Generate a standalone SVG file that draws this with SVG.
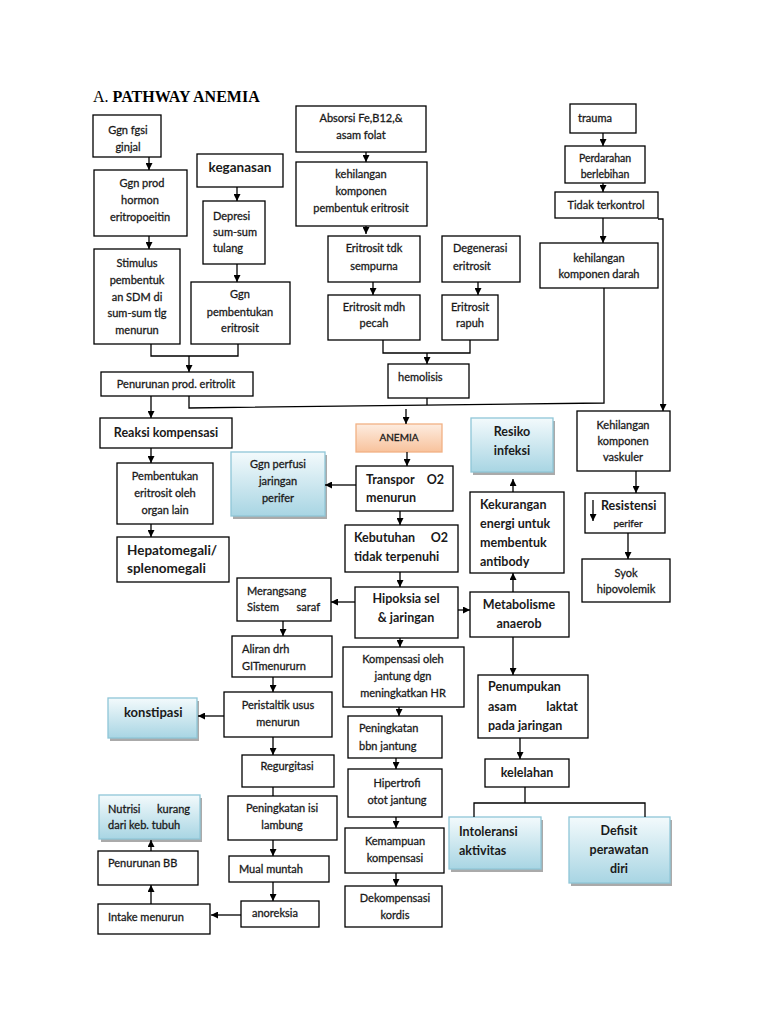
<svg xmlns="http://www.w3.org/2000/svg" width="768" height="1024" viewBox="0 0 768 1024">
<defs>
<marker id="ah" viewBox="0 0 10 10" refX="10" refY="5" markerWidth="7" markerHeight="7" markerUnits="userSpaceOnUse" orient="auto">
<path d="M0,0 L10,5 L0,10 z" fill="#000"/>
</marker>
<linearGradient id="gb" x1="0" y1="0" x2="0" y2="1">
<stop offset="0" stop-color="#f3fafc"/>
<stop offset="1" stop-color="#a8d5e3"/>
</linearGradient>
<linearGradient id="go" x1="0" y1="0" x2="0" y2="1">
<stop offset="0" stop-color="#fdece0"/>
<stop offset="1" stop-color="#f8c29c"/>
</linearGradient>
</defs>
<style>
rect.b{fill:#fff;stroke:#000;stroke-width:1.3}
rect.bl{fill:url(#gb);stroke:#8fc6d8;stroke-width:1.3}
rect.sh{fill:#aaa;stroke:none}
rect.or{fill:url(#go);stroke:#f2b184;stroke-width:1.3}
text{font-family:Lato,"Liberation Sans",sans-serif;font-size:11px;fill:#1a1a1a;stroke:#1a1a1a;stroke-width:0.3}
text.c{text-anchor:middle}
text.e{text-anchor:end}
text.bd{font-weight:bold;font-size:12.5px;stroke:none}
.cn line,.cn polyline,.cn path{stroke:#000;stroke-width:1.3;fill:none}
.ar{marker-end:url(#ah)}
</style>
<rect width="768" height="1024" fill="#fff"/>
<text x="93" y="102" style="font-family:'Liberation Serif',serif;font-size:16px;fill:#000;stroke:none">A. <tspan font-weight="bold">PATHWAY ANEMIA</tspan></text>

<g id="n-ginjal"><rect class="b" x="93" y="115" width="68" height="42"/><text class="c" x="128" y="134">Ggn fgsi</text><text class="c" x="128" y="151">ginjal</text></g>
<g id="n-keganasan"><rect class="b" x="197" y="154" width="86" height="33"/><text class="c bd" x="240" y="172" style="font-size:13.5px">keganasan</text></g>
<g id="n-hormon"><rect class="b" x="94" y="170" width="93" height="66"/><text class="c" x="142" y="187">Ggn prod</text><text class="c" x="140" y="204">hormon</text><text class="c" x="140" y="221">eritropoeitin</text></g>
<g id="n-depresi"><rect class="b" x="203" y="201" width="62" height="63"/><text x="213" y="220">Depresi</text><text x="213" y="236">sum-sum</text><text x="213" y="252">tulang</text></g>
<g id="n-stimulus"><rect class="b" x="94" y="249" width="86" height="95"/><text class="c" x="137" y="267">Stimulus</text><text class="c" x="137" y="284">pembentuk</text><text class="c" x="137" y="301">an SDM di</text><text class="c" x="137" y="317">sum-sum tlg</text><text class="c" x="137" y="334">menurun</text></g>
<g id="n-ggnpemb"><rect class="b" x="191" y="282" width="99" height="62"/><text class="c" x="240" y="298">Ggn</text><text class="c" x="240" y="316">pembentukan</text><text class="c" x="240" y="332">eritrosit</text></g>
<g id="n-absorsi"><rect class="b" x="296" y="106" width="130" height="46"/><text class="c" x="361" y="122">Absorsi Fe,B12,&amp;</text><text class="c" x="361" y="139">asam folat</text></g>
<g id="n-kehkomp"><rect class="b" x="296" y="162" width="131" height="64"/><text class="c" x="361" y="178">kehilangan</text><text class="c" x="361" y="195">komponen</text><text class="c" x="361" y="212">pembentuk eritrosit</text></g>
<g id="n-tdksempurna"><rect class="b" x="328" y="236" width="92" height="46"/><text class="c" x="374" y="252">Eritrosit tdk</text><text class="c" x="374" y="270">sempurna</text></g>
<g id="n-degenerasi"><rect class="b" x="442" y="236" width="78" height="46"/><text x="453" y="252">Degenerasi</text><text x="453" y="270">eritrosit</text></g>
<g id="n-mdhpecah"><rect class="b" x="328" y="295" width="92" height="45"/><text class="c" x="374" y="311">Eritrosit mdh</text><text class="c" x="374" y="327">pecah</text></g>
<g id="n-rapuh"><rect class="b" x="442" y="295" width="56" height="45"/><text class="c" x="470" y="311">Eritrosit</text><text class="c" x="470" y="327">rapuh</text></g>
<g id="n-trauma"><rect class="b" x="570" y="104" width="66" height="29"/><text x="578" y="122">trauma</text></g>
<g id="n-perdarahan"><rect class="b" x="565" y="146" width="80" height="37"/><text class="c" x="605" y="162" style="font-size:10.5px">Perdarahan</text><text class="c" x="605" y="178" style="font-size:10.5px">berlebihan</text></g>
<g id="n-tidakterkontrol"><rect class="b" x="555" y="192" width="103" height="26"/><text class="c" x="606" y="209">Tidak terkontrol</text></g>
<g id="n-kehdarah"><rect class="b" x="540" y="243" width="118" height="45"/><text class="c" x="599" y="262">kehilangan</text><text class="c" x="599" y="278">komponen darah</text></g>
<g id="n-penurunanprod"><rect class="b" x="101" y="372" width="152" height="24"/><text class="c" x="176" y="388">Penurunan prod. eritrolit</text></g>
<g id="n-hemolisis"><rect class="b" x="388" y="364" width="81" height="34"/><text x="398" y="381">hemolisis</text></g>
<g id="n-reaksi"><rect class="b" x="100" y="418" width="132" height="30"/><text class="c bd" x="166" y="437">Reaksi kompensasi</text></g>
<g id="n-pembentukan"><rect class="b" x="117" y="463" width="96" height="61"/><text class="c" x="165" y="480">Pembentukan</text><text class="c" x="165" y="497">eritrosit oleh</text><text class="c" x="165" y="514">organ lain</text></g>
<g id="n-hepato"><rect class="b" x="117" y="537" width="112" height="45"/><text class="bd" x="127" y="555" style="font-size:13.5px">Hepatomegali/</text><text class="bd" x="127" y="573" style="font-size:13.5px">splenomegali</text></g>
<g id="n-ggnperfusi"><rect class="sh" x="233" y="455" width="94" height="64"/><rect class="bl" x="231" y="452" width="94" height="64"/><text class="c" x="278" y="468">Ggn perfusi</text><text class="c" x="278" y="485">jaringan</text><text class="c" x="278" y="502">perifer</text></g>
<g id="n-anemia"><rect class="or" x="356" y="424" width="86" height="28"/><text class="c" x="399" y="441" style="font-size:10px">ANEMIA</text></g>
<g id="n-resiko"><rect class="sh" x="473" y="421" width="82" height="54"/><rect class="bl" x="471" y="418" width="82" height="54"/><text class="c bd" x="512" y="436">Resiko</text><text class="c bd" x="512" y="455">infeksi</text></g>
<g id="n-transpor"><rect class="b" x="356" y="466" width="97" height="45"/><text class="bd" x="366" y="484">Transpor</text><text class="bd e" x="444" y="484">O2</text><text class="bd" x="366" y="502">menurun</text></g>
<g id="n-kebutuhan"><rect class="b" x="345" y="525" width="113" height="47"/><text class="bd" x="354" y="542">Kebutuhan</text><text class="bd e" x="448" y="542">O2</text><text class="bd" x="354" y="561">tidak terpenuhi</text></g>
<g id="n-hipoksia"><rect class="b" x="355" y="587" width="103" height="51"/><text class="c bd" x="406" y="603">Hipoksia sel</text><text class="c bd" x="406" y="622">&amp; jaringan</text></g>
<g id="n-kekurangan"><rect class="b" x="470" y="492" width="94" height="81"/><text class="bd" x="480" y="509">Kekurangan</text><text class="bd" x="480" y="528">energi untuk</text><text class="bd" x="480" y="547">membentuk</text><text class="bd" x="480" y="566">antibody</text></g>
<g id="n-metabolisme"><rect class="b" x="470" y="592" width="99" height="45"/><text class="c bd" x="519" y="609">Metabolisme</text><text class="c bd" x="519" y="628">anaerob</text></g>
<g id="n-vaskuler"><rect class="b" x="577" y="411" width="93" height="60"/><text class="c" x="623" y="429">Kehilangan</text><text class="c" x="623" y="445">komponen</text><text class="c" x="623" y="461">vaskuler</text></g>
<g id="n-resistensi"><rect class="b" x="585" y="493" width="80" height="40"/><line x1="593" y1="500" x2="593" y2="521" stroke="#000" stroke-width="1.3" marker-end="url(#ah)"/><text class="bd" x="601" y="510">Resistensi</text><text class="c" x="628" y="527" style="font-size:10px">perifer</text></g>
<g id="n-syok"><rect class="b" x="582" y="559" width="88" height="43"/><text class="c" x="626" y="577">Syok</text><text class="c" x="626" y="593">hipovolemik</text></g>
<g id="n-merangsang"><rect class="b" x="237" y="578" width="94" height="43"/><text x="247" y="595">Merangsang</text><text x="247" y="611">Sistem</text><text class="e" x="320" y="611">saraf</text></g>
<g id="n-aliran"><rect class="b" x="232" y="636" width="100" height="41"/><text x="242" y="653">Aliran drh</text><text x="242" y="670">GITmenururn</text></g>
<g id="n-peristaltik"><rect class="b" x="224" y="692" width="108" height="45"/><text class="c" x="278" y="709">Peristaltik usus</text><text class="c" x="278" y="726">menurun</text></g>
<g id="n-konstipasi"><rect class="sh" x="110" y="701" width="89" height="40"/><rect class="bl" x="108" y="698" width="89" height="40"/><text class="bd" x="124" y="717" style="font-size:13px">konstipasi</text></g>
<g id="n-regurgitasi"><rect class="b" x="242" y="755" width="92" height="32"/><text class="c" x="287" y="770">Regurgitasi</text></g>
<g id="n-peningkatanisi"><rect class="b" x="228" y="796" width="109" height="44"/><text class="c" x="282" y="812">Peningkatan isi</text><text class="c" x="282" y="829">lambung</text></g>
<g id="n-mual"><rect class="b" x="229" y="856" width="100" height="26"/><text x="239" y="873">Mual muntah</text></g>
<g id="n-anoreksia"><rect class="b" x="241" y="901" width="78" height="26"/><text x="252" y="917">anoreksia</text></g>
<g id="n-intake"><rect class="b" x="98" y="904" width="112" height="30"/><text x="108" y="921">Intake menurun</text></g>
<g id="n-penurunanbb"><rect class="b" x="98" y="851" width="100" height="34"/><text x="108" y="867">Penurunan BB</text></g>
<g id="n-nutrisi"><rect class="sh" x="101" y="798" width="101" height="44"/><rect class="bl" x="99" y="795" width="101" height="44"/><text x="108" y="813">Nutrisi</text><text class="e" x="190" y="813">kurang</text><text x="108" y="829">dari keb. tubuh</text></g>
<g id="n-kompensasi"><rect class="b" x="343" y="647" width="121" height="60"/><text class="c" x="403" y="663">Kompensasi oleh</text><text class="c" x="403" y="680">jantung dgn</text><text class="c" x="403" y="697">meningkatkan HR</text></g>
<g id="n-bbnjantung"><rect class="b" x="348" y="716" width="94" height="42"/><text x="359" y="732">Peningkatan</text><text x="359" y="750">bbn jantung</text></g>
<g id="n-hipertrofi"><rect class="b" x="348" y="769" width="94" height="48"/><text class="c" x="397" y="787">Hipertrofi</text><text class="c" x="397" y="804">otot jantung</text></g>
<g id="n-kemampuan"><rect class="b" x="345" y="828" width="99" height="45"/><text class="c" x="395" y="845">Kemampuan</text><text class="c" x="395" y="862">kompensasi</text></g>
<g id="n-dekompensasi"><rect class="b" x="345" y="886" width="97" height="41"/><text class="c" x="395" y="902">Dekompensasi</text><text class="c" x="395" y="919">kordis</text></g>
<g id="n-penumpukan"><rect class="b" x="478" y="675" width="110" height="63"/><text class="bd" x="488" y="691">Penumpukan</text><text class="bd" x="488" y="711">asam</text><text class="bd e" x="578" y="711">laktat</text><text class="bd" x="488" y="730">pada jaringan</text></g>
<g id="n-kelelahan"><rect class="b" x="485" y="759" width="84" height="28"/><text class="c bd" x="527" y="777">kelelahan</text></g>
<g id="n-intoleransi"><rect class="sh" x="451" y="820" width="92" height="52"/><rect class="bl" x="449" y="817" width="92" height="52"/><text class="bd" x="459" y="836">Intoleransi</text><text class="bd" x="459" y="855">aktivitas</text></g>
<g id="n-defisit"><rect class="sh" x="571" y="820" width="101" height="66"/><rect class="bl" x="569" y="817" width="101" height="66"/><text class="c bd" x="619" y="835">Defisit</text><text class="c bd" x="619" y="854">perawatan</text><text class="c bd" x="619" y="873">diri</text></g>

<g id="connectors" class="cn">
<line class="ar" x1="149" y1="157" x2="149" y2="170"/>
<line class="ar" x1="237" y1="187" x2="237" y2="201"/>
<line class="ar" x1="149" y1="236" x2="149" y2="249"/>
<line class="ar" x1="237" y1="264" x2="237" y2="282"/>
<polyline points="151,344 151,356 238,356 238,344"/>
<line class="ar" x1="189" y1="356" x2="189" y2="372"/>
<line class="ar" x1="366" y1="152" x2="366" y2="162"/>
<line class="ar" x1="366" y1="226" x2="366" y2="234"/>
<line class="ar" x1="373" y1="282" x2="373" y2="295"/>
<line class="ar" x1="478" y1="282" x2="478" y2="295"/>
<polyline points="383,340 383,353 470,353 470,340"/>
<line class="ar" x1="427" y1="353" x2="427" y2="364"/>
<line class="ar" x1="603" y1="133" x2="603" y2="146"/>
<line class="ar" x1="603" y1="183" x2="603" y2="192"/>
<line class="ar" x1="603" y1="218" x2="603" y2="243"/>
<polyline class="ar" points="658,219 663,219 663,411"/>
<line class="ar" x1="151" y1="396" x2="151" y2="418"/>
<polyline points="189,396 189,408 604,403 604,288"/>
<line x1="427" y1="398" x2="427" y2="405"/>
<line class="ar" x1="406" y1="409" x2="406" y2="424"/>
<line class="ar" x1="151" y1="448" x2="151" y2="463"/>
<line class="ar" x1="151" y1="524" x2="151" y2="537"/>
<line class="ar" x1="407" y1="452" x2="407" y2="466"/>
<line class="ar" x1="400" y1="511" x2="400" y2="525"/>
<line class="ar" x1="400" y1="572" x2="400" y2="587"/>
<line class="ar" x1="356" y1="485" x2="325" y2="485"/>
<line class="ar" x1="458" y1="610" x2="470" y2="610"/>
<line class="ar" x1="513" y1="592" x2="513" y2="573"/>
<line class="ar" x1="513" y1="492" x2="513" y2="479"/>
<line class="ar" x1="636" y1="471" x2="636" y2="493"/>
<line class="ar" x1="628" y1="533" x2="628" y2="559"/>
<line class="ar" x1="355" y1="602" x2="331" y2="602"/>
<line class="ar" x1="283" y1="621" x2="283" y2="636"/>
<line class="ar" x1="273" y1="677" x2="273" y2="692"/>
<line class="ar" x1="224" y1="716" x2="198" y2="716"/>
<line class="ar" x1="273" y1="737" x2="273" y2="755"/>
<line x1="273" y1="787" x2="273" y2="796"/>
<line class="ar" x1="273" y1="840" x2="273" y2="856"/>
<line class="ar" x1="273" y1="882" x2="273" y2="901"/>
<line class="ar" x1="241" y1="915" x2="211" y2="915"/>
<line class="ar" x1="151" y1="904" x2="151" y2="885"/>
<line class="ar" x1="151" y1="851" x2="151" y2="840"/>
<line class="ar" x1="400" y1="638" x2="400" y2="647"/>
<line class="ar" x1="399" y1="707" x2="399" y2="716"/>
<line class="ar" x1="396" y1="758" x2="396" y2="769"/>
<line class="ar" x1="396" y1="817" x2="396" y2="828"/>
<line class="ar" x1="396" y1="873" x2="396" y2="886"/>
<line class="ar" x1="513" y1="637" x2="513" y2="675"/>
<line class="ar" x1="520" y1="738" x2="520" y2="759"/>
<line x1="525" y1="787" x2="525" y2="803"/>
<polyline points="474,817 474,803 645,803 645,817"/>
</g>
</svg>
